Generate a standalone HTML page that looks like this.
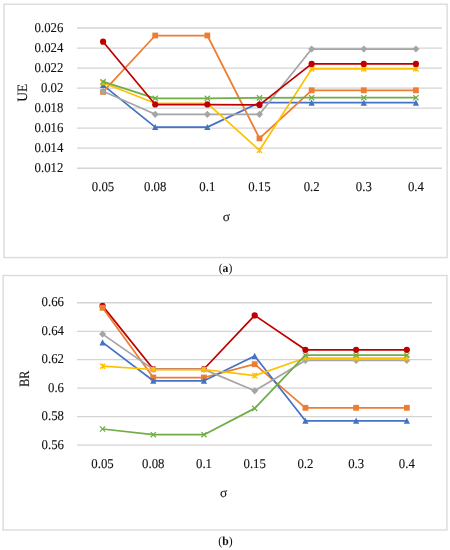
<!DOCTYPE html>
<html><head><meta charset="utf-8"><title>Figure</title>
<style>
html,body{margin:0;padding:0;background:#fff;}
body{width:450px;height:550px;overflow:hidden;font-family:"Liberation Serif",serif;}
svg{display:block;}
.t{text-rendering:geometricPrecision;font-family:"Liberation Serif",serif;font-size:12.8px;fill:#111;stroke:#111;stroke-width:0.1px;}
.c{text-rendering:geometricPrecision;font-family:"Liberation Serif",serif;font-size:12.4px;fill:#111;}
</style></head><body>
<svg width="450" height="550" viewBox="0 0 450 550">
<rect width="450" height="550" fill="#fff"/>
<rect x="4.0" y="4.2" width="443.1" height="253.35000000000002" fill="#fff" stroke="#DBDBDB" stroke-width="1.4"/>
<line x1="77" y1="28.0" x2="442" y2="28.0" stroke="#D4D4D4" stroke-width="1.3"/>
<line x1="77" y1="48.03" x2="442" y2="48.03" stroke="#D4D4D4" stroke-width="1.3"/>
<line x1="77" y1="68.07" x2="442" y2="68.07" stroke="#D4D4D4" stroke-width="1.3"/>
<line x1="77" y1="88.11" x2="442" y2="88.11" stroke="#D4D4D4" stroke-width="1.3"/>
<line x1="77" y1="108.14" x2="442" y2="108.14" stroke="#D4D4D4" stroke-width="1.3"/>
<line x1="77" y1="128.18" x2="442" y2="128.18" stroke="#D4D4D4" stroke-width="1.3"/>
<line x1="77" y1="148.21" x2="442" y2="148.21" stroke="#D4D4D4" stroke-width="1.3"/>
<line x1="77" y1="168.25" x2="442" y2="168.25" stroke="#D4D4D4" stroke-width="1.3"/>
<text transform="translate(63.4 32.20) scale(1 1.06)" text-anchor="end" class="t">0.026</text>
<text transform="translate(63.4 52.23) scale(1 1.06)" text-anchor="end" class="t">0.024</text>
<text transform="translate(63.4 72.27) scale(1 1.06)" text-anchor="end" class="t">0.022</text>
<text transform="translate(63.4 92.31) scale(1 1.06)" text-anchor="end" class="t">0.02</text>
<text transform="translate(63.4 112.34) scale(1 1.06)" text-anchor="end" class="t">0.018</text>
<text transform="translate(63.4 132.38) scale(1 1.06)" text-anchor="end" class="t">0.016</text>
<text transform="translate(63.4 152.41) scale(1 1.06)" text-anchor="end" class="t">0.014</text>
<text transform="translate(63.4 172.45) scale(1 1.06)" text-anchor="end" class="t">0.012</text>
<text transform="translate(103.07 190.75) scale(1 1.06)" text-anchor="middle" class="t">0.05</text>
<text transform="translate(155.21 190.75) scale(1 1.06)" text-anchor="middle" class="t">0.08</text>
<text transform="translate(207.36 190.75) scale(1 1.06)" text-anchor="middle" class="t">0.1</text>
<text transform="translate(259.50 190.75) scale(1 1.06)" text-anchor="middle" class="t">0.15</text>
<text transform="translate(311.64 190.75) scale(1 1.06)" text-anchor="middle" class="t">0.2</text>
<text transform="translate(363.79 190.75) scale(1 1.06)" text-anchor="middle" class="t">0.3</text>
<text transform="translate(415.93 190.75) scale(1 1.06)" text-anchor="middle" class="t">0.4</text>
<polyline points="103.07,85.10 155.21,127.10 207.36,127.10 259.50,102.70 311.64,102.70 363.79,102.70 415.93,102.70" fill="none" stroke="#4472C4" stroke-width="1.75" stroke-linejoin="round" stroke-linecap="round"/>
<path d="M99.97 88.10L106.17 88.10L103.07 81.90Z" fill="#4472C4"/>
<path d="M152.11 130.10L158.31 130.10L155.21 123.90Z" fill="#4472C4"/>
<path d="M204.26 130.10L210.46 130.10L207.36 123.90Z" fill="#4472C4"/>
<path d="M256.40 105.70L262.60 105.70L259.50 99.50Z" fill="#4472C4"/>
<path d="M308.54 105.70L314.74 105.70L311.64 99.50Z" fill="#4472C4"/>
<path d="M360.69 105.70L366.89 105.70L363.79 99.50Z" fill="#4472C4"/>
<path d="M412.83 105.70L419.03 105.70L415.93 99.50Z" fill="#4472C4"/>
<polyline points="103.07,91.90 155.21,35.50 207.36,35.50 259.50,138.40 311.64,90.30 363.79,90.30 415.93,90.30" fill="none" stroke="#ED7D31" stroke-width="1.75" stroke-linejoin="round" stroke-linecap="round"/>
<rect x="100.17" y="89.00" width="5.8" height="5.8" fill="#ED7D31"/>
<rect x="152.31" y="32.60" width="5.8" height="5.8" fill="#ED7D31"/>
<rect x="204.46" y="32.60" width="5.8" height="5.8" fill="#ED7D31"/>
<rect x="256.60" y="135.50" width="5.8" height="5.8" fill="#ED7D31"/>
<rect x="308.74" y="87.40" width="5.8" height="5.8" fill="#ED7D31"/>
<rect x="360.89" y="87.40" width="5.8" height="5.8" fill="#ED7D31"/>
<rect x="413.03" y="87.40" width="5.8" height="5.8" fill="#ED7D31"/>
<polyline points="103.07,91.30 155.21,114.30 207.36,114.30 259.50,114.30 311.64,49.00 363.79,49.00 415.93,49.00" fill="none" stroke="#A5A5A5" stroke-width="1.75" stroke-linejoin="round" stroke-linecap="round"/>
<path d="M103.07 87.70L106.57 91.30L103.07 94.90L99.57 91.30Z" fill="#A5A5A5"/>
<path d="M155.21 110.70L158.71 114.30L155.21 117.90L151.71 114.30Z" fill="#A5A5A5"/>
<path d="M207.36 110.70L210.86 114.30L207.36 117.90L203.86 114.30Z" fill="#A5A5A5"/>
<path d="M259.50 110.70L263.00 114.30L259.50 117.90L256.00 114.30Z" fill="#A5A5A5"/>
<path d="M311.64 45.40L315.14 49.00L311.64 52.60L308.14 49.00Z" fill="#A5A5A5"/>
<path d="M363.79 45.40L367.29 49.00L363.79 52.60L360.29 49.00Z" fill="#A5A5A5"/>
<path d="M415.93 45.40L419.43 49.00L415.93 52.60L412.43 49.00Z" fill="#A5A5A5"/>
<polyline points="103.07,82.70 155.21,103.30 207.36,103.30 259.50,150.30 311.64,68.90 363.79,68.90 415.93,68.90" fill="none" stroke="#FFC000" stroke-width="1.75" stroke-linejoin="round" stroke-linecap="round"/>
<path d="M100.47 80.10L105.67 85.30M100.47 85.30L105.67 80.10M103.07 80.10L103.07 85.30" stroke="#FFC000" stroke-width="1.3" fill="none"/>
<path d="M152.61 100.70L157.81 105.90M152.61 105.90L157.81 100.70M155.21 100.70L155.21 105.90" stroke="#FFC000" stroke-width="1.3" fill="none"/>
<path d="M204.76 100.70L209.96 105.90M204.76 105.90L209.96 100.70M207.36 100.70L207.36 105.90" stroke="#FFC000" stroke-width="1.3" fill="none"/>
<path d="M256.90 147.70L262.10 152.90M256.90 152.90L262.10 147.70M259.50 147.70L259.50 152.90" stroke="#FFC000" stroke-width="1.3" fill="none"/>
<path d="M309.04 66.30L314.24 71.50M309.04 71.50L314.24 66.30M311.64 66.30L311.64 71.50" stroke="#FFC000" stroke-width="1.3" fill="none"/>
<path d="M361.19 66.30L366.39 71.50M361.19 71.50L366.39 66.30M363.79 66.30L363.79 71.50" stroke="#FFC000" stroke-width="1.3" fill="none"/>
<path d="M413.33 66.30L418.53 71.50M413.33 71.50L418.53 66.30M415.93 66.30L415.93 71.50" stroke="#FFC000" stroke-width="1.3" fill="none"/>
<polyline points="103.07,81.70 155.21,98.30 207.36,98.30 259.50,97.90 311.64,97.70 363.79,97.70 415.93,97.70" fill="none" stroke="#70AD47" stroke-width="1.75" stroke-linejoin="round" stroke-linecap="round"/>
<path d="M100.47 79.10L105.67 84.30M100.47 84.30L105.67 79.10" stroke="#70AD47" stroke-width="1.3" fill="none"/>
<path d="M152.61 95.70L157.81 100.90M152.61 100.90L157.81 95.70" stroke="#70AD47" stroke-width="1.3" fill="none"/>
<path d="M204.76 95.70L209.96 100.90M204.76 100.90L209.96 95.70" stroke="#70AD47" stroke-width="1.3" fill="none"/>
<path d="M256.90 95.30L262.10 100.50M256.90 100.50L262.10 95.30" stroke="#70AD47" stroke-width="1.3" fill="none"/>
<path d="M309.04 95.10L314.24 100.30M309.04 100.30L314.24 95.10" stroke="#70AD47" stroke-width="1.3" fill="none"/>
<path d="M361.19 95.10L366.39 100.30M361.19 100.30L366.39 95.10" stroke="#70AD47" stroke-width="1.3" fill="none"/>
<path d="M413.33 95.10L418.53 100.30M413.33 100.30L418.53 95.10" stroke="#70AD47" stroke-width="1.3" fill="none"/>
<polyline points="103.07,41.70 155.21,104.50 207.36,104.50 259.50,104.90 311.64,63.90 363.79,63.90 415.93,63.90" fill="none" stroke="#C00000" stroke-width="1.75" stroke-linejoin="round" stroke-linecap="round"/>
<circle cx="103.07" cy="41.70" r="3.1" fill="#C00000"/>
<circle cx="155.21" cy="104.50" r="3.1" fill="#C00000"/>
<circle cx="207.36" cy="104.50" r="3.1" fill="#C00000"/>
<circle cx="259.50" cy="104.90" r="3.1" fill="#C00000"/>
<circle cx="311.64" cy="63.90" r="3.1" fill="#C00000"/>
<circle cx="363.79" cy="63.90" r="3.1" fill="#C00000"/>
<circle cx="415.93" cy="63.90" r="3.1" fill="#C00000"/>
<text transform="translate(27.1 92.8) rotate(-90)" text-anchor="middle" class="t" textLength="18.0" lengthAdjust="spacingAndGlyphs" style="font-size:14.3px">UE</text>
<text x="226.4" y="221" text-anchor="middle" class="t" style="font-size:13.5px">σ</text>
<text transform="translate(225.5 271.5) scale(0.94 1)" text-anchor="middle" class="c">(<tspan font-weight="bold">a</tspan>)</text>
<rect x="3.1" y="275.5" width="443.79999999999995" height="254.45000000000005" fill="#fff" stroke="#DBDBDB" stroke-width="1.4"/>
<line x1="77" y1="302.76" x2="432" y2="302.76" stroke="#D4D4D4" stroke-width="1.3"/>
<line x1="77" y1="331.3" x2="432" y2="331.3" stroke="#D4D4D4" stroke-width="1.3"/>
<line x1="77" y1="359.6" x2="432" y2="359.6" stroke="#D4D4D4" stroke-width="1.3"/>
<line x1="77" y1="388.1" x2="432" y2="388.1" stroke="#D4D4D4" stroke-width="1.3"/>
<line x1="77" y1="416.65" x2="432" y2="416.65" stroke="#D4D4D4" stroke-width="1.3"/>
<line x1="77" y1="445.15" x2="432" y2="445.15" stroke="#D4D4D4" stroke-width="1.3"/>
<text transform="translate(64.0 306.36) scale(1 1.06)" text-anchor="end" class="t">0.66</text>
<text transform="translate(64.0 334.90) scale(1 1.06)" text-anchor="end" class="t">0.64</text>
<text transform="translate(64.0 363.20) scale(1 1.06)" text-anchor="end" class="t">0.62</text>
<text transform="translate(64.0 391.70) scale(1 1.06)" text-anchor="end" class="t">0.6</text>
<text transform="translate(64.0 420.25) scale(1 1.06)" text-anchor="end" class="t">0.58</text>
<text transform="translate(64.0 448.75) scale(1 1.06)" text-anchor="end" class="t">0.56</text>
<text transform="translate(102.56 467.6) scale(1 1.06)" text-anchor="middle" class="t">0.05</text>
<text transform="translate(153.27 467.6) scale(1 1.06)" text-anchor="middle" class="t">0.08</text>
<text transform="translate(203.99 467.6) scale(1 1.06)" text-anchor="middle" class="t">0.1</text>
<text transform="translate(254.70 467.6) scale(1 1.06)" text-anchor="middle" class="t">0.15</text>
<text transform="translate(305.41 467.6) scale(1 1.06)" text-anchor="middle" class="t">0.2</text>
<text transform="translate(356.13 467.6) scale(1 1.06)" text-anchor="middle" class="t">0.3</text>
<text transform="translate(406.84 467.6) scale(1 1.06)" text-anchor="middle" class="t">0.4</text>
<polyline points="102.56,305.90 153.27,369.00 203.99,369.00 254.70,315.40 305.41,349.80 356.13,349.80 406.84,349.80" fill="none" stroke="#C00000" stroke-width="1.75" stroke-linejoin="round" stroke-linecap="round"/>
<circle cx="102.56" cy="305.90" r="3.1" fill="#C00000"/>
<circle cx="153.27" cy="369.00" r="3.1" fill="#C00000"/>
<circle cx="203.99" cy="369.00" r="3.1" fill="#C00000"/>
<circle cx="254.70" cy="315.40" r="3.1" fill="#C00000"/>
<circle cx="305.41" cy="349.80" r="3.1" fill="#C00000"/>
<circle cx="356.13" cy="349.80" r="3.1" fill="#C00000"/>
<circle cx="406.84" cy="349.80" r="3.1" fill="#C00000"/>
<polyline points="102.56,307.80 153.27,377.50 203.99,377.50 254.70,364.20 305.41,407.80 356.13,407.80 406.84,407.80" fill="none" stroke="#ED7D31" stroke-width="1.75" stroke-linejoin="round" stroke-linecap="round"/>
<rect x="99.66" y="304.90" width="5.8" height="5.8" fill="#ED7D31"/>
<rect x="150.37" y="374.60" width="5.8" height="5.8" fill="#ED7D31"/>
<rect x="201.09" y="374.60" width="5.8" height="5.8" fill="#ED7D31"/>
<rect x="251.80" y="361.30" width="5.8" height="5.8" fill="#ED7D31"/>
<rect x="302.51" y="404.90" width="5.8" height="5.8" fill="#ED7D31"/>
<rect x="353.23" y="404.90" width="5.8" height="5.8" fill="#ED7D31"/>
<rect x="403.94" y="404.90" width="5.8" height="5.8" fill="#ED7D31"/>
<polyline points="102.56,342.40 153.27,380.80 203.99,380.80 254.70,356.00 305.41,420.80 356.13,420.80 406.84,420.80" fill="none" stroke="#4472C4" stroke-width="1.75" stroke-linejoin="round" stroke-linecap="round"/>
<path d="M99.46 345.40L105.66 345.40L102.56 339.20Z" fill="#4472C4"/>
<path d="M150.17 383.80L156.37 383.80L153.27 377.60Z" fill="#4472C4"/>
<path d="M200.89 383.80L207.09 383.80L203.99 377.60Z" fill="#4472C4"/>
<path d="M251.60 359.00L257.80 359.00L254.70 352.80Z" fill="#4472C4"/>
<path d="M302.31 423.80L308.51 423.80L305.41 417.60Z" fill="#4472C4"/>
<path d="M353.03 423.80L359.23 423.80L356.13 417.60Z" fill="#4472C4"/>
<path d="M403.74 423.80L409.94 423.80L406.84 417.60Z" fill="#4472C4"/>
<polyline points="102.56,334.10 153.27,369.40 203.99,369.40 254.70,390.80 305.41,360.40 356.13,360.40 406.84,360.40" fill="none" stroke="#A5A5A5" stroke-width="1.75" stroke-linejoin="round" stroke-linecap="round"/>
<path d="M102.56 330.50L106.06 334.10L102.56 337.70L99.06 334.10Z" fill="#A5A5A5"/>
<path d="M153.27 365.80L156.77 369.40L153.27 373.00L149.77 369.40Z" fill="#A5A5A5"/>
<path d="M203.99 365.80L207.49 369.40L203.99 373.00L200.49 369.40Z" fill="#A5A5A5"/>
<path d="M254.70 387.20L258.20 390.80L254.70 394.40L251.20 390.80Z" fill="#A5A5A5"/>
<path d="M305.41 356.80L308.91 360.40L305.41 364.00L301.91 360.40Z" fill="#A5A5A5"/>
<path d="M356.13 356.80L359.63 360.40L356.13 364.00L352.63 360.40Z" fill="#A5A5A5"/>
<path d="M406.84 356.80L410.34 360.40L406.84 364.00L403.34 360.40Z" fill="#A5A5A5"/>
<polyline points="102.56,366.20 153.27,369.50 203.99,369.50 254.70,375.60 305.41,358.00 356.13,358.00 406.84,358.00" fill="none" stroke="#FFC000" stroke-width="1.75" stroke-linejoin="round" stroke-linecap="round"/>
<path d="M99.96 363.60L105.16 368.80M99.96 368.80L105.16 363.60M102.56 363.60L102.56 368.80" stroke="#FFC000" stroke-width="1.3" fill="none"/>
<path d="M150.67 366.90L155.87 372.10M150.67 372.10L155.87 366.90M153.27 366.90L153.27 372.10" stroke="#FFC000" stroke-width="1.3" fill="none"/>
<path d="M201.39 366.90L206.59 372.10M201.39 372.10L206.59 366.90M203.99 366.90L203.99 372.10" stroke="#FFC000" stroke-width="1.3" fill="none"/>
<path d="M252.10 373.00L257.30 378.20M252.10 378.20L257.30 373.00M254.70 373.00L254.70 378.20" stroke="#FFC000" stroke-width="1.3" fill="none"/>
<path d="M302.81 355.40L308.01 360.60M302.81 360.60L308.01 355.40M305.41 355.40L305.41 360.60" stroke="#FFC000" stroke-width="1.3" fill="none"/>
<path d="M353.53 355.40L358.73 360.60M353.53 360.60L358.73 355.40M356.13 355.40L356.13 360.60" stroke="#FFC000" stroke-width="1.3" fill="none"/>
<path d="M404.24 355.40L409.44 360.60M404.24 360.60L409.44 355.40M406.84 355.40L406.84 360.60" stroke="#FFC000" stroke-width="1.3" fill="none"/>
<polyline points="102.56,429.00 153.27,434.70 203.99,434.70 254.70,408.40 305.41,355.20 356.13,355.20 406.84,355.20" fill="none" stroke="#70AD47" stroke-width="1.75" stroke-linejoin="round" stroke-linecap="round"/>
<path d="M99.96 426.40L105.16 431.60M99.96 431.60L105.16 426.40" stroke="#70AD47" stroke-width="1.3" fill="none"/>
<path d="M150.67 432.10L155.87 437.30M150.67 437.30L155.87 432.10" stroke="#70AD47" stroke-width="1.3" fill="none"/>
<path d="M201.39 432.10L206.59 437.30M201.39 437.30L206.59 432.10" stroke="#70AD47" stroke-width="1.3" fill="none"/>
<path d="M252.10 405.80L257.30 411.00M252.10 411.00L257.30 405.80" stroke="#70AD47" stroke-width="1.3" fill="none"/>
<path d="M302.81 352.60L308.01 357.80M302.81 357.80L308.01 352.60" stroke="#70AD47" stroke-width="1.3" fill="none"/>
<path d="M353.53 352.60L358.73 357.80M353.53 357.80L358.73 352.60" stroke="#70AD47" stroke-width="1.3" fill="none"/>
<path d="M404.24 352.60L409.44 357.80M404.24 357.80L409.44 352.60" stroke="#70AD47" stroke-width="1.3" fill="none"/>
<text transform="translate(29.1 378.8) rotate(-90)" text-anchor="middle" class="t" textLength="16.0" lengthAdjust="spacingAndGlyphs" style="font-size:14.3px">BR</text>
<text x="223.6" y="497" text-anchor="middle" class="t" style="font-size:13.5px">σ</text>
<text transform="translate(225.4 544.6) scale(0.94 1)" text-anchor="middle" class="c">(<tspan font-weight="bold">b</tspan>)</text>
</svg>
</body></html>
